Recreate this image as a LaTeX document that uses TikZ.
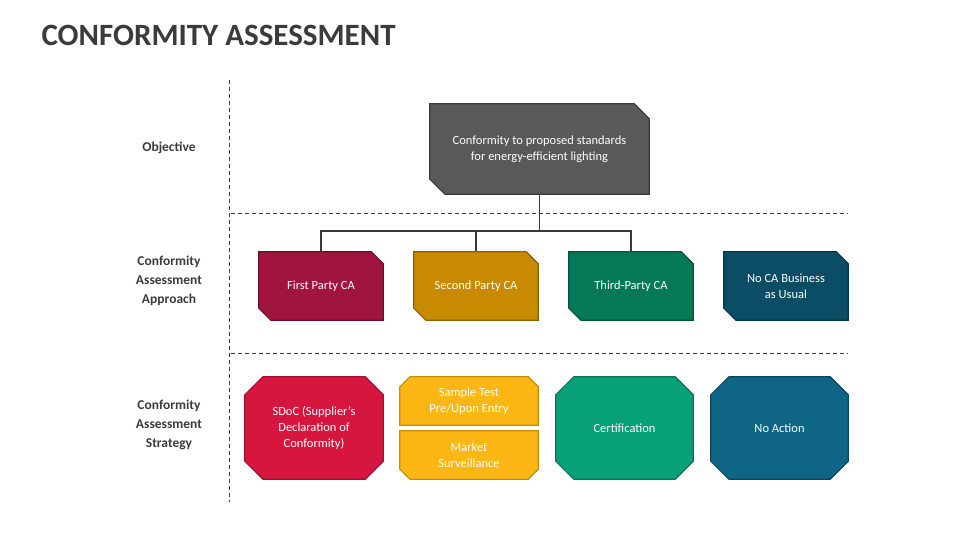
\documentclass[tikz,border=0pt]{standalone}
\usepackage{fontspec}
\setmainfont{Carlito}
\usetikzlibrary{calc}
\definecolor{objf}{HTML}{595959}\definecolor{objd}{HTML}{3A3A3A}
\definecolor{af}{HTML}{A0153E}\definecolor{ad}{HTML}{6E0E2B}
\definecolor{bf}{HTML}{C88A00}\definecolor{bd}{HTML}{8C6100}
\definecolor{cf}{HTML}{047857}\definecolor{cd}{HTML}{03543C}
\definecolor{df}{HTML}{0A4D65}\definecolor{dd}{HTML}{073646}
\definecolor{sa}{HTML}{D6163F}\definecolor{sad}{HTML}{A0102F}
\definecolor{sb}{HTML}{FDB714}\definecolor{sbd}{HTML}{C98E00}
\definecolor{sc}{HTML}{07A077}\definecolor{scd}{HTML}{05735A}
\definecolor{sd}{HTML}{0F6585}\definecolor{sdd}{HTML}{0A4760}
\definecolor{ttl}{HTML}{3B3B3B}
\newcommand\TRBL[4]{% name, cut, fill, draw
\fill[#3,draw=#4,line width=1.2pt] (#1.north west) -- ($(#1.north east)+(-#2,0)$) -- ($(#1.north east)+(0,#2)$) -- (#1.south east) -- ($(#1.south west)+(#2,0)$) -- ($(#1.south west)+(0,-#2)$) -- cycle;}
\newcommand\OCT[4]{%
\fill[#3,draw=#4,line width=1.2pt] ($(#1.north west)+(#2,0)$) -- ($(#1.north east)+(-#2,0)$) -- ($(#1.north east)+(0,#2)$) -- ($(#1.south east)+(0,-#2)$) -- ($(#1.south east)+(-#2,0)$) -- ($(#1.south west)+(#2,0)$) -- ($(#1.south west)+(0,-#2)$) -- ($(#1.north west)+(0,#2)$) -- cycle;}
\newcommand\TOPCUT[4]{%
\fill[#3,draw=#4,line width=1.2pt] ($(#1.north west)+(#2,0)$) -- ($(#1.north east)+(-#2,0)$) -- ($(#1.north east)+(0,#2)$) -- (#1.south east) -- (#1.south west) -- ($(#1.north west)+(0,#2)$) -- cycle;}
\newcommand\BOTCUT[4]{%
\fill[#3,draw=#4,line width=1.2pt] (#1.north west) -- (#1.north east) -- ($(#1.south east)+(0,-#2)$) -- ($(#1.south east)+(-#2,0)$) -- ($(#1.south west)+(#2,0)$) -- ($(#1.south west)+(0,-#2)$) -- cycle;}
\begin{document}
\begin{tikzpicture}[x=1pt,y=-1pt,
 box/.style={inner sep=0pt,align=center,text=white,font=\fontsize{12.5}{16}\selectfont},
 lbl/.style={align=center,text=ttl,font=\bfseries\fontsize{13.5}{19}\selectfont},
 sep/.style={dashed,draw=ttl,line width=0.7pt,dash pattern=on 4pt off 3pt},
 conn/.style={draw=objd,line width=1.8pt}]
\useasboundingbox (0,0) rectangle (960,540);
\node[anchor=west,font=\bfseries\fontsize{31}{36}\selectfont,text=ttl] (title) at (38,35) {CONFORMITY ASSESSMENT};
\draw[sep] (229,80) -- (229,502);
\draw[sep] (231,213) -- (848,213);
\draw[sep] (231,353) -- (848,353);
\node[lbl] (l1) at (169,148) {Objective};
\node[lbl] (l2) at (169,281) {Conformity\\Assessment\\Approach};
\node[lbl] (l3) at (169,425) {Conformity\\Assessment\\Strategy};
% nodes (invisible frames)
\node[box,minimum width=219pt,minimum height=90pt] (obj) at (539.5,149) {};
\node[box,minimum width=124pt,minimum height=68pt] (a1) at (321,286) {};
\node[box,minimum width=124pt,minimum height=68pt] (a2) at (476,286) {};
\node[box,minimum width=124pt,minimum height=68pt] (a3) at (631,286) {};
\node[box,minimum width=124pt,minimum height=68pt] (a4) at (786,286) {};
\node[box,minimum width=138pt,minimum height=102pt] (s1) at (314,428) {};
\node[box,minimum width=138pt,minimum height=48pt] (s2a) at (469,401) {};
\node[box,minimum width=138pt,minimum height=48pt] (s2b) at (469,455) {};
\node[box,minimum width=137pt,minimum height=102pt] (s3) at (624.5,428) {};
\node[box,minimum width=137pt,minimum height=102pt] (s4) at (779.5,428) {};
% connectors
\coordinate (j) at (539.5,231);
\draw[conn] (obj.south) -- (j);
\draw[conn] (a1.north) |- (j) -| (a3.north);
\draw[conn] (a2.north) -- (a2.north |- j);
% shapes
\TRBL{obj}{15}{objf}{objd}
\TRBL{a1}{12}{af}{ad}
\TRBL{a2}{12}{bf}{bd}
\TRBL{a3}{12}{cf}{cd}
\TRBL{a4}{12}{df}{dd}
\OCT{s1}{18}{sa}{sad}
\TOPCUT{s2a}{10}{sb}{sbd}
\BOTCUT{s2b}{10}{sb}{sbd}
\OCT{s3}{18}{sc}{scd}
\OCT{s4}{18}{sd}{sdd}
% texts
\node[box] at (obj) {Conformity to proposed standards\\for energy-efficient lighting};
\node[box] at (a1) {First Party CA};
\node[box] at (a2) {Second Party CA};
\node[box] at (a3) {Third-Party CA};
\node[box] at (a4) {No CA Business\\as Usual};
\node[box] at (s1) {SDoC (Supplier’s\\Declaration of\\Conformity)};
\node[box] at (s2a) {Sample Test\\Pre/Upon Entry};
\node[box] at (s2b) {Market\\Surveillance};
\node[box] at (s3) {Certification};
\node[box] at (s4) {No Action};
\end{tikzpicture}
\end{document}
